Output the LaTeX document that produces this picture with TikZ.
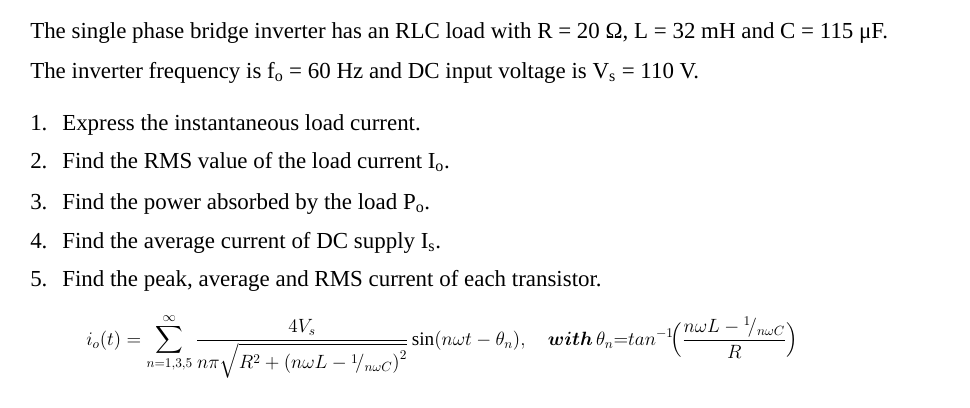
\documentclass[tikz,border=0pt]{standalone}
\usepackage{fontspec}
\usepackage{amsmath}
\setmainfont{Liberation Serif}
\tikzset{txt/.style={anchor=base west,inner sep=0pt,font=\fontsize{17.2pt}{20pt}\selectfont}}
\begin{document}
\begin{tikzpicture}[x=0.75pt,y=-0.75pt]
\useasboundingbox[fill=white] (0,0) rectangle (970,407);
\node[txt] (l1) at (30,38) {The single phase bridge inverter has an RLC load with R = 20 Ω, L = 32 mH and C = 115 μF.};
\node[txt] (l2) at (30,78) {The inverter frequency is f\textsubscript{o} = 60 Hz and DC input voltage is V\textsubscript{s} = 110 V.};
\foreach \n/\y/\t in {1/130/{Express the instantaneous load current.},
  2/168/{Find the RMS value of the load current I\textsubscript{o}.},
  3/209/{Find the power absorbed by the load P\textsubscript{o}.},
  4/248/{Find the average current of DC supply I\textsubscript{s}.},
  5/286/{Find the peak, average and RMS current of each transistor.}}{
  \node[txt] (n\n) at (30,\y) {\n.};
  \node[txt] (t\n) at (62,\y) {\t};
}
\node[anchor=west,inner sep=0pt,font=\fontsize{14.4pt}{17pt}\selectfont] (eq) at (86,346)
{$\displaystyle i_o(t)=\sum_{n=1,3,5}^{\infty}\frac{4V_s}{n\pi\sqrt{R^2+\left(n\omega L-{}^{1}\!/_{n\omega C}\right)^2}}\sin(n\omega t-\theta_n),\quad \boldsymbol{with}\,\theta_n{=}tan^{-1}\!\Big(\frac{n\omega L-{}^{1}\!/_{n\omega C}}{R}\Big)$};
\end{tikzpicture}
\end{document}
